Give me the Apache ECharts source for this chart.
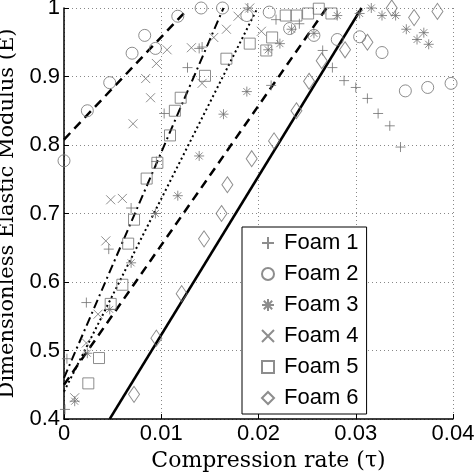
<!DOCTYPE html>
<html>
<head>
<meta charset="utf-8">
<script src="https://cdn.jsdelivr.net/npm/echarts@6/dist/echarts.min.js"></script>
<style>
  html, body { margin: 0; padding: 0; background: #fff; }
  #chart { width: 474px; height: 472px; }
</style>
</head>
<body>
<div id="chart"></div>
<script>
// measured points [tau, E]
var foam1 = [[0.0001,0.414],[0.0003,0.488],[0.0023,0.570],[0.0046,0.648],[0.0069,0.708],[0.0095,0.776],
  [0.0103,0.846],[0.0127,0.913],[0.0139,0.941],[0.0142,0.943],[0.0189,1.0],[0.0213,0.887],[0.0218,0.983],
  [0.0242,0.977],[0.0266,0.938],[0.0276,0.913],[0.0288,0.894],[0.0300,0.884],[0.0312,0.868],[0.0323,0.846],
  [0.0335,0.828],[0.0346,0.797]];
var foam2 = [[0,0.777],[0.0024,0.850],[0.0047,0.891],[0.0070,0.934],[0.0083,0.960],[0.0094,0.941],[0.0117,0.988],
  [0.0141,1.0],[0.0163,1.0],[0.0188,0.989],[0.0211,0.994],[0.0232,0.970],[0.0257,0.960],[0.0281,0.954],
  [0.0304,0.958],[0.0327,0.935],[0.0351,0.879],[0.0374,0.884],[0.0398,0.890]];
var foam3 = [[0.0011,0.426],[0.0024,0.496],[0.0047,0.560],[0.0069,0.628],[0.0094,0.700],[0.0117,0.726],
  [0.0139,0.784],[0.0164,0.845],[0.0188,0.878],[0.0210,0.939],[0.0222,0.948],[0.0234,0.969],[0.0257,0.963],
  [0.0281,0.989],[0.0304,0.992],[0.0316,1.0],[0.0327,0.989],[0.0341,0.989],[0.0352,0.969],[0.0363,0.954],
  [0.0370,0.964],[0.0375,0.947]];
var foam4 = [[0.0011,0.431],[0.0023,0.511],[0.0035,0.553],[0.0043,0.660],[0.0048,0.720],[0.0060,0.722],
  [0.0071,0.831],[0.0084,0.897],[0.0089,0.869],[0.0095,0.919],[0.0106,0.939],[0.0131,0.942],[0.0142,0.890],
  [0.0154,0.957],[0.0167,0.969],[0.0179,0.988],[0.0191,1.0],[0.0203,0.966]];
var foam5 = [[0.0025,0.452],[0.0036,0.489],[0.0048,0.568],[0.0060,0.596],[0.0066,0.656],[0.0072,0.691],
  [0.0085,0.751],[0.0096,0.774],[0.0109,0.814],[0.0114,0.850],[0.0120,0.869],[0.0145,0.901],[0.0167,0.926],
  [0.0191,0.948],[0.0208,0.938],[0.0214,0.957],[0.0228,0.989],[0.0239,0.989],[0.0251,0.992],[0.0262,0.999],
  [0.0275,0.992]];
var foam6 = [[0.0072,0.436],[0.0095,0.518],[0.0121,0.583],[0.0144,0.663],[0.0162,0.700],[0.0168,0.742],
  [0.0193,0.780],[0.0216,0.806],[0.0239,0.850],[0.0252,0.893],[0.0265,0.923],[0.0289,0.939],[0.0312,0.950],
  [0.0337,1.0],[0.0360,0.986],[0.0384,0.995]];

// fitted lines (end points)
var fitDashTop = [[0,0.808],[0.0125,0.995]];
var fitDashDot = [[0,0.46],[0.0164,1.0]];
var fitDotted = [[0,0.44],[0.0199,1.0]];
var fitDashLow = [[0,0.45],[0.027,1.0]];
var fitSolid = [[0.0047,0.4],[0.0306,1.0]];

var xTicks = [0, 0.01, 0.02, 0.03, 0.04];
var yTicks = [0.4, 0.5, 0.6, 0.7, 0.8, 0.9, 1];

var grey = "#707070";
var plusPath = "path://M5,0L5,10M0,5L10,5";
var crossPath = "path://M0,0L10,10M10,0L0,10";
var starPath = "path://M5,0L5,10M0,5L10,5M1.5,1.5L8.5,8.5M8.5,1.5L1.5,8.5";

function marker(name, data, symbol, size) {
  return {
    name: name,
    type: "scatter",
    data: data,
    symbol: symbol,
    symbolSize: size,
    z: 3,
    itemStyle: { color: "rgba(0,0,0,0)", borderColor: grey, borderWidth: 1 }
  };
}
function fit(data, dash, w) {
  return {
    type: "line",
    data: data,
    showSymbol: false,
    silent: true,
    z: 2,
    lineStyle: { color: "#000", width: w, type: dash }
  };
}

var myChart = echarts.init(document.getElementById("chart"));
var option = {
  animation: false,
  grid: { left: 64, right: 21, top: 8, bottom: 53, outerBoundsMode: "none", containLabel: false },
  legend: {
    data: ["Foam 1", "Foam 2", "Foam 3", "Foam 4", "Foam 5", "Foam 6"],
    orient: "vertical",
    left: 242,
    top: 227,
    padding: [5, 8, 5, 19],
    itemWidth: 12,
    itemHeight: 12,
    itemGap: 9,
    backgroundColor: "#fff",
    borderColor: "#000",
    borderWidth: 1,
    borderRadius: 0,
    textStyle: { fontFamily: "Liberation Sans", fontSize: 22, lineHeight: 22, color: "#000", padding: [0, 0, 0, 5] }
  },
  xAxis: {
    type: "value",
    min: xTicks[0],
    max: xTicks[xTicks.length - 1],
    interval: 0.01,
    name: "Compression rate (\u03c4)",
    nameLocation: "middle",
    nameGap: 25,
    nameTextStyle: { fontFamily: "DejaVu Serif", fontSize: 22, color: "#000", padding: [0, 0, 0, 20] },
    axisLine: { onZero: false, lineStyle: { color: "#000", width: 1.5 } },
    axisTick: { inside: true, length: 5, lineStyle: { color: "#000" } },
    axisLabel: {
      fontFamily: "Liberation Sans", fontSize: 22, color: "#000", margin: 4,
      formatter: function (v) { return String(+v.toFixed(3)); }
    },
    splitLine: { show: true, lineStyle: { color: "#888", width: 1, type: [1, 3] } }
  },
  yAxis: {
    type: "value",
    min: yTicks[0],
    max: yTicks[yTicks.length - 1],
    interval: 0.1,
    name: "Dimensionless Elastic Modulus (E)",
    nameLocation: "middle",
    nameGap: 40,
    nameTextStyle: { fontFamily: "DejaVu Serif", fontSize: 21, color: "#000" },
    axisLine: { show: true, onZero: false, lineStyle: { color: "#000", width: 1.5 } },
    axisTick: { show: true, inside: true, length: 5, lineStyle: { color: "#000" } },
    axisLabel: {
      fontFamily: "Liberation Sans", fontSize: 22, color: "#000", margin: 4,
      formatter: function (v) { return String(+v.toFixed(2)); }
    },
    splitLine: { show: true, lineStyle: { color: "#888", width: 1, type: [1, 3] } }
  },
  series: [
    fit(fitDashTop, [9, 6], 2.5),
    fit(fitDashDot, [9, 4, 2, 4], 2),
    fit(fitDotted, [2, 3], 2),
    fit(fitDashLow, [9, 6], 2.5),
    fit(fitSolid, "solid", 2.5),
    marker("Foam 1", foam1, plusPath, 10),
    marker("Foam 2", foam2, "circle", 12),
    marker("Foam 3", foam3, starPath, 10),
    marker("Foam 4", foam4, crossPath, 9),
    marker("Foam 5", foam5, "rect", 11),
    marker("Foam 6", foam6, "diamond", [11, 16])
  ]
};
myChart.setOption(option);
</script>
</body>
</html>
